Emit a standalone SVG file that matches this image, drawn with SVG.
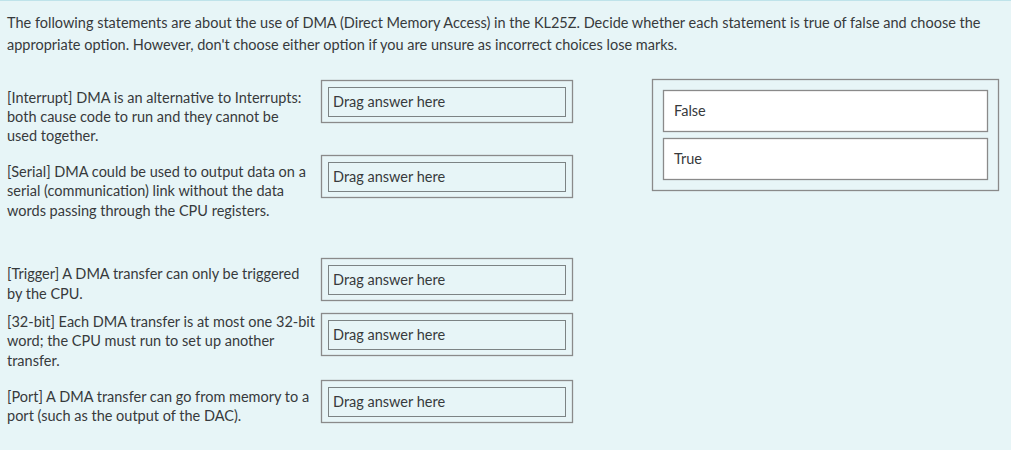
<svg xmlns="http://www.w3.org/2000/svg" width="1011" height="450" viewBox="0 0 1011 450">
<style>
text{font-family:Lato,"Liberation Sans",sans-serif;font-size:14.5px;fill:#373a3c}
.o{fill:none;stroke:#8a8a8a;stroke-width:1.3}
.i{fill:none;stroke:#111;stroke-width:1;stroke-dasharray:1 1}
.c{fill:#fff;stroke:#8a8a8a;stroke-width:1.3}
</style>
<rect width="1011" height="450" fill="#e7f5f7"/>
<line x1="0" y1="0.5" x2="1011" y2="0.5" stroke="#bfe3ea"/>
<text x="7" y="28">The following statements are about the use of DMA (Direct Memory Access) in the KL25Z. Decide whether each statement is true of false and choose the</text>
<text x="7" y="50">appropriate option. However, don't choose either option if you are unsure as incorrect choices lose marks.</text>
<g id="s1"><text x="7" y="103">[Interrupt] DMA is an alternative to Interrupts:</text><text x="7" y="122">both cause code to run and they cannot be</text><text x="7" y="141">used together.</text></g>
<g id="s2"><text x="7" y="177">[Serial] DMA could be used to output data on a</text><text x="7" y="196">serial (communication) link without the data</text><text x="7" y="216">words passing through the CPU registers.</text></g>
<g id="s3"><text x="7" y="279">[Trigger] A DMA transfer can only be triggered</text><text x="7" y="299">by the CPU.</text></g>
<g id="s4"><text x="7" y="327">[32-bit] Each DMA transfer is at most one 32-bit</text><text x="7" y="346">word; the CPU must run to set up another</text><text x="7" y="366">transfer.</text></g>
<g id="s5"><text x="7" y="402">[Port] A DMA transfer can go from memory to a</text><text x="7" y="421">port (such as the output of the DAC).</text></g>
<g id="d1"><rect class="o" x="321.5" y="80.5" width="251" height="42"/><rect class="i" x="328.5" y="87.5" width="237" height="29"/><text x="333" y="107">Drag answer here</text></g>
<g id="d2"><rect class="o" x="321.5" y="155.5" width="251" height="42"/><rect class="i" x="328.5" y="162.5" width="237" height="29"/><text x="333" y="182">Drag answer here</text></g>
<g id="d3"><rect class="o" x="321.5" y="258.5" width="251" height="42"/><rect class="i" x="328.5" y="265.5" width="237" height="29"/><text x="333" y="285">Drag answer here</text></g>
<g id="d4"><rect class="o" x="321.5" y="313.5" width="251" height="42"/><rect class="i" x="328.5" y="320.5" width="237" height="29"/><text x="333" y="340">Drag answer here</text></g>
<g id="d5"><rect class="o" x="321.5" y="380.5" width="251" height="42"/><rect class="i" x="328.5" y="387.5" width="237" height="29"/><text x="333" y="407">Drag answer here</text></g>
<g id="choices"><rect class="o" x="652.5" y="79.5" width="346" height="111"/></g>
<g id="false"><rect class="c" x="663.5" y="90.5" width="324" height="41"/><text x="674" y="116">False</text></g>
<g id="true"><rect class="c" x="663.5" y="138.5" width="324" height="41"/><text x="674" y="164">True</text></g>
<g id="connectors"/>
</svg>
